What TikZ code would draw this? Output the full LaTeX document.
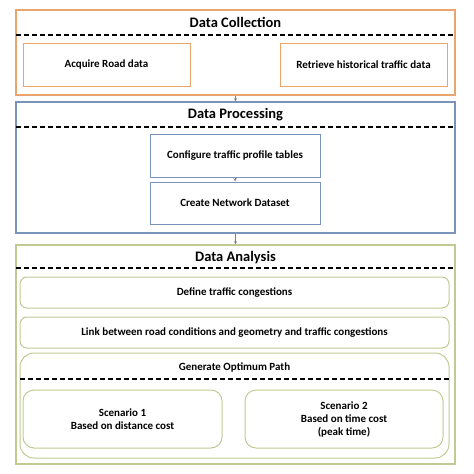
\documentclass[tikz,border=0pt]{standalone}
\usepackage{fontspec}
\setmainfont{Carlito}
\definecolor{orng}{HTML}{E9A56B}
\definecolor{stblue}{HTML}{7A93B8}
\definecolor{olive}{HTML}{BFCB92}

\begin{document}
\begin{tikzpicture}[x=1pt, y=-1pt,
  stage/.style={draw, line width=1.2pt, inner sep=0pt},
  task/.style={draw, line width=1pt, align=center, inner sep=0pt, font=\bfseries\fontsize{11}{13}\selectfont},
  head/.style={font=\bfseries\fontsize{14.5}{17}\selectfont},
  sep/.style={dashed, line width=1.3pt, dash pattern=on 5pt off 3pt},
  flow/.style={draw=gray, ->, >=stealth, line width=0.5pt}]
\useasboundingbox (0,0) rectangle (474,474);
% Data Collection
\node (dc) [stage, draw=orng, minimum width=439pt, minimum height=85pt] at (235.5,52.5) {};
\node (dct) [head] at (235.5,22) {Data Collection};
\draw [sep] (16,35) -- (455,35);
\node (road) [task, draw=orng, minimum width=167pt, minimum height=43pt] at (106.5,64.5) {Acquire Road data};
\node (hist) [task, draw=orng, minimum width=167pt, minimum height=43pt] at (363.5,64.5) {Retrieve historical traffic data};
% Data Processing
\node (dp) [stage, draw=stblue, minimum width=439pt, minimum height=131pt] at (235.5,167.5) {};
\node (dpt) [head] at (235.5,115) {Data Processing};
\draw [sep] (16,127) -- (455,127);
\node (prof) [task, draw=stblue, minimum width=170pt, minimum height=43pt] at (235,155.5) {Configure traffic profile tables};
\node (net) [task, draw=stblue, minimum width=170pt, minimum height=42pt] at (235,203) {Create Network Dataset};
% Data Analysis
\node (da) [stage, draw=olive, minimum width=439pt, minimum height=219pt] at (235.5,354.5) {};
\node (dat) [head] at (235.5,257.5) {Data Analysis};
\draw [sep] (16,268) -- (455,268);
\node (cong) [task, draw=olive, rounded corners=7pt, minimum width=429pt, minimum height=31pt] at (234.5,292.5) {Define traffic congestions};
\node (link) [task, draw=olive, rounded corners=7pt, minimum width=429pt, minimum height=31pt] at (234.5,332.5) {Link between road conditions and geometry and traffic congestions};
\node (opt) [stage, draw=olive, line width=1pt, rounded corners=14pt, minimum width=429pt, minimum height=105pt] at (234.5,405.5) {};
\node (optt) [task, draw=none] at (234.5,367) {Generate Optimum Path};
\draw [sep] (20,379) -- (449,379);
\node (sc1) [task, draw=olive, rounded corners=11pt, minimum width=199pt, minimum height=58pt] at (122.5,419) {Scenario 1\\Based on distance cost};
\node (sc2) [task, draw=olive, rounded corners=11pt, minimum width=198pt, minimum height=58pt] at (344,419) {Scenario 2\\Based on time cost\\(peak time)};
% arrows
\draw [flow] (dc.south) -- (dp.north);
\draw [flow] (prof.south) -- (net.north);
\draw [flow] (dp.south) -- (da.north);
\end{tikzpicture}
\end{document}
